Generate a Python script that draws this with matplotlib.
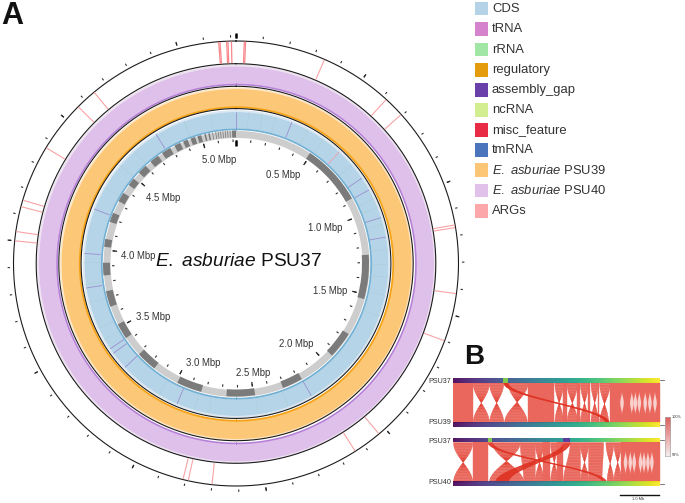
import numpy as np
import matplotlib
matplotlib.use("Agg")
import matplotlib.pyplot as plt
from matplotlib.colors import to_rgb
from matplotlib.patches import Rectangle

plt.rcParams['font.family'] = ['Liberation Sans', 'DejaVu Sans']
plt.rcParams['mathtext.fontset'] = 'custom'
plt.rcParams['mathtext.rm'] = 'Liberation Sans'
plt.rcParams['mathtext.it'] = 'Liberation Sans:italic'

W, H = 685, 503
GENOME = 5.22
# ---------- panel A data (Mbp) ----------
dark_start = [0.49,1.25,1.77,2.18,2.49,2.83,3.16,3.42,3.64,3.84,4.02,4.18,4.32,4.44,4.54,4.64,4.73,4.82,4.88,4.93,4.975,
              5.02,5.045,5.07,5.09,5.105,5.12,5.135,5.15,5.165,5.18,5.195]
dark_end   = [0.88,1.53,1.94,2.31,2.67,2.99,3.29,3.52,3.74,3.92,4.07,4.24,4.38,4.49,4.60,4.70,4.79,4.86,4.91,4.96,5.00,
              5.03,5.055,5.075,5.095,5.11,5.125,5.14,5.155,5.17,5.185,5.22]
gap_pos  = [0.0,0.313,0.81,0.885,1.05,1.16,2.18,2.94,3.29,3.39,3.42,3.78,3.97,4.22,4.76]
cds_pos  = [0.07,0.145,0.22,0.41,0.51,0.72,0.94,0.99,1.09,1.23,1.31,1.38,1.48,1.60,2.32,2.49,2.76,2.84,3.05,3.48,3.55,3.70,3.80,3.92,4.35,4.50,4.61,4.93,5.08]
misc_pos = [0.62]
arg_pos  = [0.34,0.616,0.695,1.16,1.17,1.418,1.60,2.03,2.14,2.70,2.79,2.81,4.00,4.035,4.13,4.155,4.37,4.565,4.645]
arg_top_pos = [5.155,5.160,5.185,5.190,5.203,0.031,0.036]
legend_labels = ['CDS','tRNA','rRNA','regulatory','assembly_gap','ncRNA','misc_feature','tmRNA',
                 r'$\mathit{E.}$ $\mathit{asburiae}$ PSU39', r'$\mathit{E.}$ $\mathit{asburiae}$ PSU40','ARGs']
legend_colors = ['#b5d3e7','#d583cd','#a2e6a6','#e59c0c','#6b3fa9','#d2ee91','#e92c45','#4a74bb','#fdc676','#e1c0ea','#fca7a9']
legend_y = [8.5,29,49.5,70,90,110,130,150,170,190.7,211]
major_labels = ['0.5 Mbp','1.0 Mbp','1.5 Mbp','2.0 Mbp','2.5 Mbp','3.0 Mbp','3.5 Mbp','4.0 Mbp','4.5 Mbp','5.0 Mbp']
label_xy = [(283,175),(325,228),(330,291),(296,344),(253,373),(203,363),(153,317),(138,256),(163,198),(219,160)]

fig = plt.figure(figsize=(W/100, H/100), dpi=100)
cx, cy, RM = 236, 263.5, 234
ax = fig.add_axes([(cx-RM)/W, (H-cy-RM)/H, 2*RM/W, 2*RM/H], projection='polar')
ax.set_theta_zero_location('N'); ax.set_theta_direction(-1)
ax.set_ylim(0, RM); ax.axis('off')
T = lambda m: 2*np.pi*np.asarray(m, float)/GENOME
full = np.linspace(0, 2*np.pi, 720)

def ring(r0, r1, c):
    ax.fill_between(full, r0, r1, color=c, lw=0)

ring(197.5, 199.5, '#ece2f0'); ring(179.5, 197.5, '#dfc0ea'); ring(178.6, 180.2, '#b57fd8')
ring(175, 176.6, '#fde6c6'); ring(157, 175, '#fcc777'); ring(155.8, 157.6, '#f6a317')
ring(152, 153.8, '#dbe7f1'); ring(135.5, 152, '#b6d4e7'); ring(133.8, 135.6, '#72b0d4')
for r in (222.5, 199.8, 177.2, 154.9):
    ax.plot(full, np.full_like(full, r), color='#1c1c1c', lw=0.8)

ax.vlines(T(cds_pos), 135.5, 152, color='#a6cdd0', lw=0.5, alpha=0.6)
ax.vlines(T(gap_pos), 135.5, 152, color='#9078c8', lw=0.6, alpha=0.75)
ax.vlines(T(misc_pos), 135.5, 152, color='#ee9fac', lw=0.6)

ring(126, 133, '#cdcdcd')
ax.bar(T(dark_start), 7, width=T(dark_end)-T(dark_start), bottom=126, align='edge', color='#7b7b7b', lw=0)

ax.vlines(T(arg_pos), 200.5, 222, color='#f8a3a5', lw=0.8)
ax.vlines(T(arg_top_pos), 200.5, 222, color='#f7878c', lw=0.9)

minor = np.arange(0, 53)/10
ax.vlines(T(minor), 226, 228.4, color='#333333', lw=0.8)
ax.vlines(T(minor), 121.5, 124, color='#333333', lw=0.8)
majors = np.arange(1, 11)*0.5
ax.vlines(T(majors), 225.8, 229.6, color='#222222', lw=0.9)
ax.vlines(T(majors), 119.5, 124, color='#222222', lw=0.9)
ax.vlines(T([0]), 225.5, 231, color='#000000', lw=1.8)
ax.vlines(T([0]), 118, 124, color='#000000', lw=1.8)

def ptext(x, y, s, **k):
    k.setdefault('va', 'center')
    fig.text(x/W, 1-y/H, s, **k)

for s, (x, y) in zip(major_labels, label_xy):
    ptext(x, y, s, fontsize=6.9, ha='center', color='#333333')
ptext(238.5, 262, r'$\mathit{E.}$ $\mathit{asburiae}$ PSU37', fontsize=13.8, ha='center', color='#111111')
ptext(1, 16, 'A', fontsize=22, fontweight='bold', ha='left', color='#111111')
ptext(464, 357, 'B', fontsize=20, fontweight='bold', ha='left', color='#111111')

# legend
la = fig.add_axes([0, 0, 1, 1]); la.set_xlim(0, W); la.set_ylim(H, 0); la.axis('off'); la.patch.set_alpha(0)
for lab, c, y in zip(legend_labels, legend_colors, legend_y):
    la.add_patch(Rectangle((475.3, y-6.8), 13, 13.6, fc=c, ec='none'))
    la.text(492, y, lab, fontsize=9.4, va='center', ha='left', color='#333333')

# ---------- panel B data (Mb) ----------
# each block: top start, top end, bottom start, bottom end
pair1_top0 = [0.00,0.50,0.915,1.39,1.90,2.58,2.80,2.89,3.16,3.23,3.44,3.50,3.69,3.72,3.99]
pair1_top1 = [0.50,0.915,1.28,1.90,2.58,2.80,2.89,3.16,3.23,3.44,3.50,3.69,3.72,3.99,5.27]
pair1_bot0 = [0.00,0.915,1.28,1.88,1.90,2.80,2.80,3.16,3.16,3.44,3.44,3.69,3.69,3.95,3.99]
pair1_bot1 = [0.50,0.50,0.92,1.30,2.58,2.58,2.89,2.89,3.23,3.23,3.50,3.50,3.72,3.72,5.27]
pair1_pinch = [4.29,4.54,4.63,4.73,4.88,5.00,5.13]
pair2_top0 = [0.00,0.50,0.99,1.70,2.08,2.30,2.47,2.66,2.97,3.23,3.44,3.88,4.08,4.28]
pair2_top1 = [0.49,0.88,1.70,2.08,2.30,2.47,2.66,2.80,3.23,3.44,3.82,4.08,4.28,5.27]
pair2_bot0 = [0.49,0.50,1.79,1.79,2.30,2.30,2.66,2.66,2.80,3.44,3.44,4.08,4.28,4.28]
pair2_bot1 = [0.00,0.88,0.915,2.08,2.08,2.47,2.47,2.80,3.23,3.23,3.78,3.91,4.08,5.27]
pair2_pinch = [4.38,4.50,4.60,4.76,4.85,4.95,5.05]
link_top0 = [1.28]
link_top1 = [1.39]
link_bot0 = [3.87]
link_bot1 = [3.97]
link2_top0 = [0.88, 2.80]
link2_top1 = [0.99, 2.97]
link2_bot0 = [3.80, 1.07]
link2_bot1 = [3.90, 1.40]
bar_labels = ['PSU37','PSU39','PSU37','PSU40']

bx = fig.add_axes([453/W, 0, 207/W, 1])
bx.set_xlim(0, 5.27); bx.set_ylim(H, 0); bx.axis('off'); bx.patch.set_alpha(0)
base, deep = np.array(to_rgb('#e9675c')), np.array(to_rgb('#df3222'))

def ribbon(a0, a1, b0, b1, y0, y1, n=26, dark=False):
    ys = np.linspace(y0, y1, n+1)
    s = lambda u: 0.5-0.5*np.cos(np.pi*u)
    w0 = max(abs(a1-a0), 1e-6)
    for i in range(n):
        yy = np.linspace(ys[i], ys[i+1], 3)
        u = (yy-y0)/(y1-y0)
        L = a0+(b0-a0)*s(u); R = a1+(b1-a1)*s(u)
        um = u[1]
        wm = abs(a1+(b1-a1)*s(um)-a0-(b0-a0)*s(um))/w0
        inv = (b1-b0)*(a1-a0) < 0
        mix = (1-min(wm, 1))**2 if inv else 0
        c = deep if dark else base*(1-mix)+deep*mix
        bx.fill_betweenx(yy, L, R, color=c, lw=0.25)

def pinch(x, y0, y1, hw=0.045):
    yy = np.linspace(y0+8, y1-8, 40)
    u = (yy-y0-8)/(y1-y0-16)
    w = hw*np.sin(np.pi*u)**2
    bx.fill_betweenx(yy, x-w, x+w, color='white', lw=0, alpha=0.7)

for a0,a1,b0,b1 in zip(pair1_top0,pair1_top1,pair1_bot0,pair1_bot1):
    ribbon(a0,a1,b0,b1,382.5,422.5)
for a0,a1,b0,b1 in zip(pair2_top0,pair2_top1,pair2_bot0,pair2_bot1):
    ribbon(a0,a1,b0,b1,442,482)
for x in pair1_pinch:
    pinch(x,382.5,422.5)
for x in pair2_pinch:
    pinch(x,442,482)
for a0,a1,b0,b1 in zip(link_top0,link_top1,link_bot0,link_bot1):
    ribbon(a0,a1,b0,b1,382.5,422.5,n=40,dark=True)
for a0,a1,b0,b1 in zip(link2_top0,link2_top1,link2_bot0,link2_bot1):
    ribbon(a0,a1,b0,b1,442,482,n=40,dark=True)

grad = np.linspace(0, 1, 256)[None, :]
for y0, y1 in [(378,382.7),(422.3,426.7),(438.3,442.2),(482,486.2)]:
    bx.imshow(grad, extent=(0,5.27,y1,y0), cmap='viridis', aspect='auto', alpha=0.92, zorder=3)
    bx.plot([5.28,5.36],[(y0+y1)/2]*2, color='#444444', lw=0.5, clip_on=False)
bx.set_xlim(0, 5.27); bx.set_ylim(H, 0)
bx.add_patch(Rectangle((link_top0[0],378),link_top1[0]-link_top0[0],4.7,fc='#7cc850',ec='none',zorder=4))
bx.add_patch(Rectangle((link2_top0[0],438.3),link2_top1[0]-link2_top0[0],3.9,fc='#7cc850',ec='none',zorder=4))
bx.add_patch(Rectangle((link2_top0[1],438.3),link2_top1[1]-link2_top0[1],3.9,fc='#5b3d9e',ec='none',zorder=4))
for s, y in zip(bar_labels, [381.5,423,441.5,482]):
    ptext(451, y, s, fontsize=5.2, ha='right', color='#333333')

# colour bar and scale bar
cb = fig.add_axes([664.5/W, 1-455.7/H, 5.6/W, 39/H])
cb.imshow(np.linspace(1, 0, 128)[:, None], aspect='auto',
          cmap=matplotlib.colors.LinearSegmentedColormap.from_list('r', ['#f4ecec', '#dd5f5c']))
cb.set_xticks([]); cb.set_yticks([])
for sp in cb.spines.values():
    sp.set_color('#aaaaaa'); sp.set_linewidth(0.5)
ptext(672, 417, '100%', fontsize=2.8, ha='left', color='#333333')
ptext(672, 455.5, '99%', fontsize=2.8, ha='left', color='#333333')
bx.plot([4.25, 5.25], [495, 495], color='#111111', lw=1.0, clip_on=False)
ptext(638.5, 499.5, '1.0 Mb', fontsize=2.8, ha='center', color='#333333')

fig.savefig('out.png', dpi=100)
